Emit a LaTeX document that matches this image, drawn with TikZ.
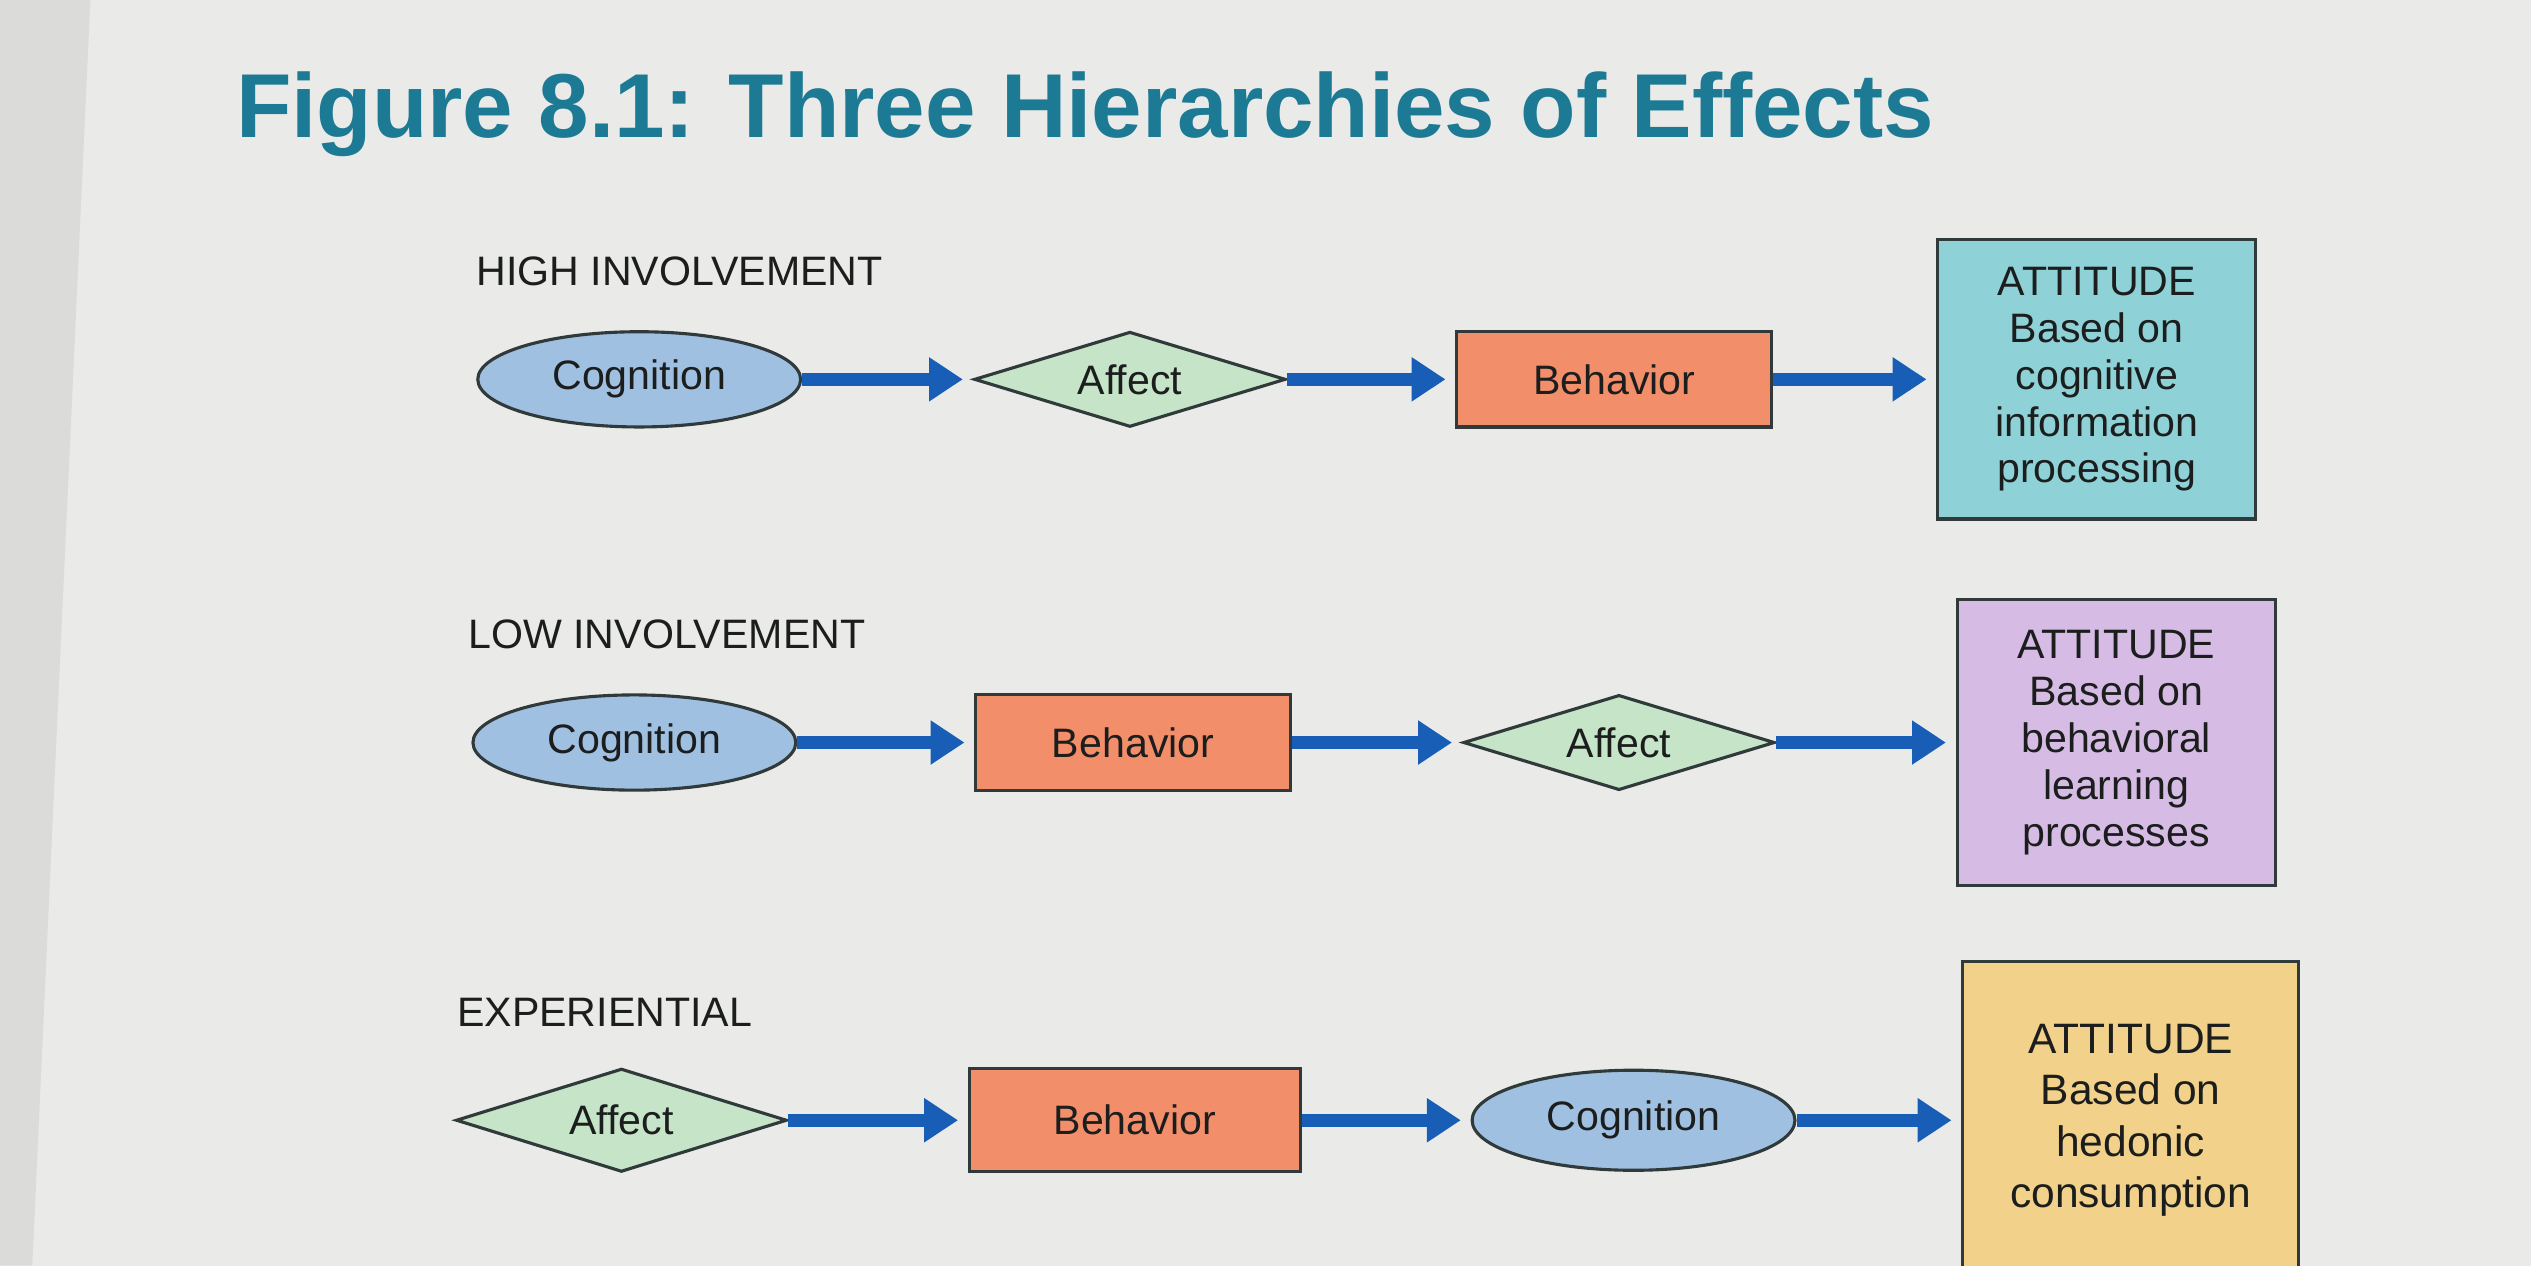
\documentclass[tikz,border=0pt]{standalone}
\usepackage{fontspec}
\setmainfont{Liberation Sans}
\usetikzlibrary{shapes.geometric,arrows.meta}

\definecolor{paper}{RGB}{234,235,232}
\definecolor{edge}{RGB}{219,220,218}
\definecolor{titleteal}{RGB}{28,122,148}
\definecolor{ink}{RGB}{28,30,30}
\definecolor{rim}{RGB}{48,58,58}
\definecolor{cogblue}{RGB}{160,192,226}
\definecolor{affgreen}{RGB}{198,228,200}
\definecolor{behsalmon}{RGB}{242,142,106}
\definecolor{attcyan}{RGB}{142,210,216}
\definecolor{attlilac}{RGB}{214,188,228}
\definecolor{attgold}{RGB}{242,210,138}
\definecolor{flowblue}{RGB}{24,94,182}

\begin{document}
\begin{tikzpicture}[x=0.2mm,y=-0.2mm,
						font=\fontsize{14.5}{16.5}\selectfont,
						every node/.style={text=ink},
						cog/.style={ellipse,draw=rim,line width=1.1pt,fill=cogblue,
						minimum width=40mm,minimum height=11.8mm,inner sep=0pt},
						aff/.style={diamond,draw=rim,line width=1.1pt,fill=affgreen,
						shape aspect=3.3,minimum width=38.6mm,minimum height=11.8mm,inner sep=0pt},
						beh/.style={rectangle,draw=rim,line width=1.1pt,fill=behsalmon,
						minimum width=39mm,minimum height=11.8mm,inner sep=0pt},
						att/.style={rectangle,draw=rim,line width=1.1pt,
						minimum width=39.4mm,align=center,inner sep=0pt},
						rowlabel/.style={anchor=west},
						flow/.style={draw=flowblue,line width=4.6pt,
						-{Triangle[length=4.2mm,width=5.2mm]},shorten >=1.2mm}]

		\clip (0,0) rectangle (1568,784);
		\fill[paper] (0,0) rectangle (1568,784);
		\fill[edge] (0,0) -- (56,0) -- (20,784) -- (0,784) -- cycle;

		\node[anchor=base west,text=titleteal,font=\fontsize{32}{36}\selectfont\bfseries] (title) at (140,85) {Figure 8.1: Three Hierarchies of Effects};

		\node[rowlabel] (high) at (289,168) {HIGH INVOLVEMENT};
		\node[cog] (cog1) at (396,235) {Cognition};
		\node[aff] (aff1) at (700,235) {Affect};
		\node[beh] (beh1) at (1000,235) {Behavior};
		\node[att,fill=attcyan,minimum height=34.6mm] (att1) at (1299,235) {ATTITUDE\\Based on\\cognitive\\information\\processing};

		\node[rowlabel] (low) at (284,393) {LOW INVOLVEMENT};
		\node[cog] (cog2) at (393,460) {Cognition};
		\node[beh] (beh2) at (702,460) {Behavior};
		\node[aff] (aff2) at (1003,460) {Affect};
		\node[att,fill=attlilac,minimum height=35.4mm] (att2) at (1311,460) {ATTITUDE\\Based on\\behavioral\\learning\\processes};

		\node[rowlabel] (exp) at (277,627) {EXPERIENTIAL};
		\node[aff,minimum width=41mm,minimum height=12.8mm] (aff3) at (385,694) {Affect};
		\node[beh,minimum width=41mm,minimum height=12.8mm] (beh3) at (703,694) {Behavior};
		\node[cog,minimum height=12.4mm] (cog3) at (1012,694) {Cognition};
		\node[att,fill=attgold,minimum width=41.6mm,minimum height=39.4mm,font=\fontsize{15}{18}\selectfont] (att3) at (1320,694) {ATTITUDE\\Based on\\hedonic\\consumption};

		\draw[flow] (cog1) -- (aff1);
		\draw[flow] (aff1) -- (beh1);
		\draw[flow] (beh1) -- (att1);

		\draw[flow] (cog2) -- (beh2);
		\draw[flow] (beh2) -- (aff2);
		\draw[flow] (aff2) -- (att2);

		\draw[flow] (aff3) -- (beh3);
		\draw[flow] (beh3) -- (cog3);
		\draw[flow] (cog3) -- (att3);

	\end{tikzpicture}
\end{document}
